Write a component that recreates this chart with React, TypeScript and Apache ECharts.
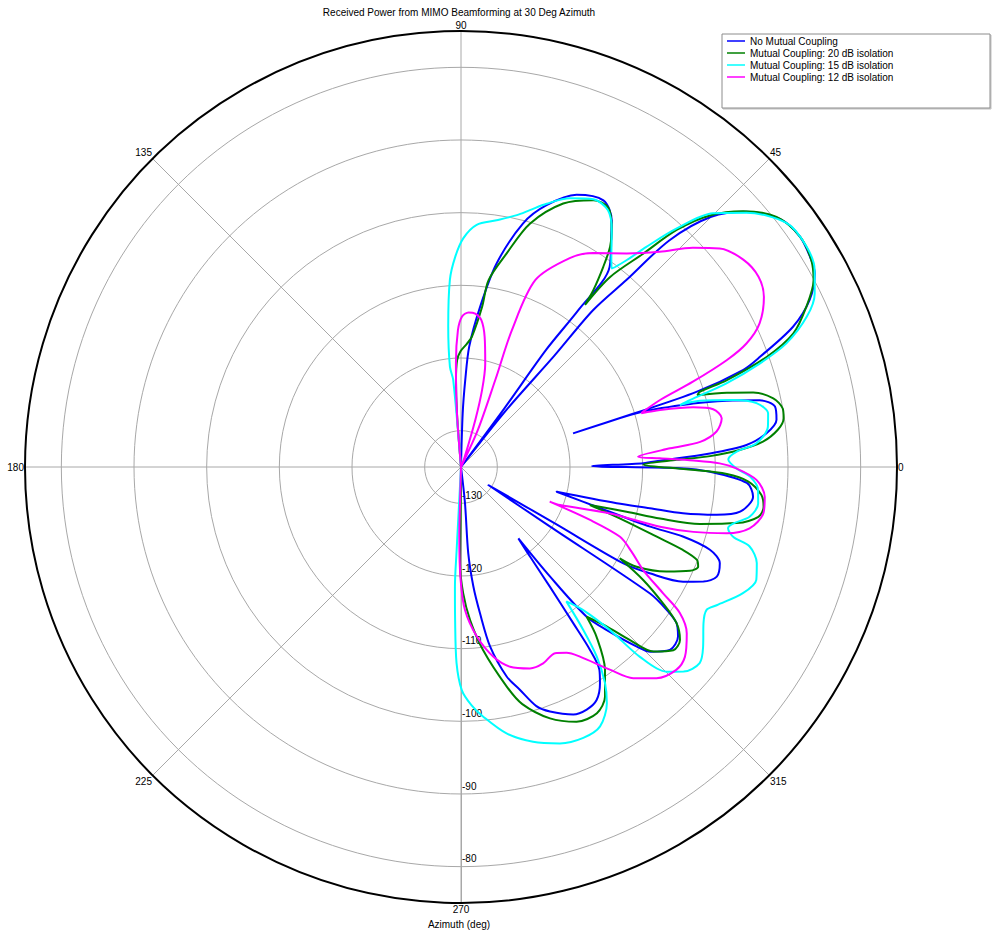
import React, { useEffect, useRef } from 'react';
import * as echarts from 'echarts';

const TITLE = 'Received Power from MIMO Beamforming at 30 Deg Azimuth';
const AXIS_NAME = 'Azimuth (deg)';
const SERIES_NAMES = [
  'No Mutual Coupling',
  'Mutual Coupling: 20 dB isolation',
  'Mutual Coupling: 15 dB isolation',
  'Mutual Coupling: 12 dB isolation',
];
const SERIES_COLORS = ['#0000ff', '#008000', '#00ffff', '#ff00ff'];
const RADIUS_TICKS = [-130, -120, -110, -100, -90, -80];
const RADIUS_MIN = -135;
const RADIUS_MAX = -75;

// [azimuth (deg), received power (dB)]
const noCoupling: [number, number][] = [
  [-89.0, -135], [-83.7, -130.0], [-85.2, -123.1], [-84.1, -118.5], [-82.6, -114.7], [-80.8, -110.0],
  [-77.7, -105.5], [-75.2, -103.3], [-72.5, -100.5],
  [-70.0, -99.2], [-65.6, -97.6], [-62.6, -97.4], [-59.8, -97.9], [-57.3, -99.6], [-55.7, -101.2],
  [-54.8, -104.2], [-54.3, -108.5], [-53.4, -114.5], [-52.4, -119.4], [-51.2, -122.4],
  [-50.9, -115.6], [-50.0, -108.1], [-48.2, -104.9], [-45.6, -100.4], [-44.3, -98.6], [-41.2, -96.8],
  [-38.0, -97.1], [-35.9, -98.4], [-34.8, -100.5], [-33.8, -103.7], [-33.8, -120.3], [-33.4, -130.5],
  [-31.0, -119.8], [-30.7, -109.0], [-29.4, -105.2], [-27.3, -100.6], [-25.3, -98.1], [-23.2, -96.7],
  [-20.4, -97.0], [-18.4, -98.9], [-17.4, -103.0], [-17.5, -107.7], [-16.5, -114.8], [-14.5, -121.4],
  [-13.1, -113.0], [-12.3, -108.4], [-11.8, -103.8], [-10.6, -99.2], [-9.1, -96.1], [-5.8, -94.6],
  [-3.2, -95.6], [-1.1, -100.7], [-0.3, -104.9], [0.4, -117.0],
  [1.2, -109.9], [1.8, -107.6], [3.1, -100.7], [4.4, -95.6], [6.3, -92.7], [8.5, -91.1], [10.9, -91.0],
  [12.6, -92.9], [14.0, -97.3], [15.3, -101.9], [16.9, -108.8], [16.7, -118.9],
  [17.2, -110.0], [17.7, -101.0], [19.0, -93.9], [20.2, -91.2], [22.9, -85.4], [25.6, -81.8],
  [28.7, -79.5], [30.6, -79.0], [34.2, -78.6], [37.9, -79.4], [41.8, -82.3], [45.0, -86.3],
  [47.4, -92.6], [48.5, -100.6], [49.9, -106.8], [50.0, -115.0], [51.5, -125.0], [53.0, -135],
  [53.5, -125.0], [54.0, -115.0], [53.2, -108.0], [53.4, -100.7], [57.2, -96.8], [58.6, -95.2],
  [61.9, -93.4], [67.0, -94.3], [71.9, -97.1], [75.7, -100.4], [80.1, -106.6], [83.2, -112.8],
  [86.1, -118.4], [87.2, -123.0], [88.2, -127.6], [89.0, -135],
];

const coupling20: [number, number][] = [
  [-90.0, -135], [-90.5, -127.7], [-90.6, -121.8], [-89.0, -117.6], [-86.6, -113.9], [-83.1, -109.6],
  [-78.2, -104.1], [-75.5, -101.3],
  [-70.5, -98.3], [-65.6, -96.5], [-61.1, -96.3], [-57.9, -97.7], [-54.6, -100.8], [-51.4, -105.1],
  [-50.0, -108.1],
  [-47.6, -105.3], [-45.7, -101.7], [-43.8, -98.3], [-40.8, -96.4], [-38.3, -96.6], [-35.9, -98.4],
  [-34.0, -101.5], [-31.8, -105.5], [-29.9, -109.8],
  [-29.6, -107.2], [-27.0, -103.3], [-24.4, -100.4], [-22.8, -99.6], [-21.5, -100.1], [-20.5, -102.4],
  [-19.6, -106.4], [-18.1, -111.5], [-16.4, -116.5],
  [-15.1, -111.4], [-14.5, -106.7], [-13.4, -101.2], [-11.5, -96.3], [-9.5, -93.5], [-7.5, -93.0],
  [-5.3, -93.5], [-2.9, -95.4], [-1.5, -98.4], [-0.6, -104.0], [0.8, -109.9],
  [1.9, -105.3], [2.5, -100.7], [3.5, -96.6], [4.8, -93.3], [6.7, -91.1], [8.6, -90.1], [10.3, -90.0],
  [12.4, -91.0], [14.3, -93.5], [15.6, -97.0], [16.9, -101.0],
  [17.5, -100.5], [18.1, -96.5], [19.8, -90.3], [21.9, -85.7], [24.9, -82.6], [27.9, -80.1],
  [30.6, -79.0], [34.2, -78.6], [38.4, -79.6], [42.2, -82.6], [45.3, -86.3], [47.7, -90.9],
  [49.5, -96.4], [51.9, -101.8], [52.6, -106.9],
  [53.2, -104.6], [54.6, -101.2], [55.9, -98.4], [57.5, -96.4], [60.3, -94.0], [63.6, -94.0],
  [68.8, -96.1], [74.2, -100.2], [77.9, -104.9], [81.6, -109.0], [82.5, -112.8], [85.2, -117.0],
  [87.2, -118.0], [90.3, -119.1], [92.1, -120.3], [93.3, -123.0], [94.3, -127.6], [93.0, -135],
];

const coupling15: [number, number][] = [
  [-93.0, -135], [-93.0, -127.7], [-93.0, -123.6], [-92.9, -118.5], [-92.2, -113.9], [-91.3, -108.0],
  [-89.8, -104.3], [-87.5, -102.2], [-84.9, -100.5], [-80.3, -97.8], [-75.3, -95.9], [-70.3, -94.6],
  [-65.7, -94.1], [-61.8, -94.5], [-58.3, -96.8], [-56.3, -99.3], [-54.4, -102.9], [-53.1, -107.0],
  [-51.9, -111.5],
  [-49.5, -109.1], [-47.6, -104.6], [-46.7, -99.1], [-44.9, -95.1], [-42.6, -93.4], [-39.4, -92.5],
  [-36.6, -93.5], [-32.8, -95.3], [-30.2, -95.9],
  [-28.4, -95.0], [-24.1, -92.5], [-20.9, -91.5], [-18.0, -92.2], [-15.4, -93.8], [-14.4, -96.3],
  [-12.9, -97.3],
  [-11.7, -96.7], [-9.8, -94.7], [-7.0, -93.8], [-4.4, -94.0], [-1.9, -95.2], [-0.3, -97.1],
  [1.6, -98.2],
  [3.2, -97.0], [4.6, -94.2], [7.5, -92.4], [9.9, -92.1], [12.2, -93.4], [13.8, -96.4], [15.5, -100.9],
  [15.8, -103.7],
  [16.3, -102.2], [17.5, -96.7], [19.1, -91.5], [20.8, -87.1], [23.5, -83.1], [26.1, -80.8],
  [29.1, -79.3], [32.5, -78.6], [36.8, -79.0], [41.7, -82.4], [45.2, -85.8], [47.9, -90.8],
  [49.9, -95.4], [51.3, -98.5], [52.8, -100.7],
  [54.0, -99.8], [57.5, -96.4], [60.2, -94.3], [63.7, -93.9], [67.9, -95.1], [72.0, -96.9],
  [75.0, -98.4], [77.5, -99.5], [81.8, -100.7], [86.3, -101.6], [89.4, -103.5], [91.6, -106.1],
  [93.4, -109.2], [95.2, -115.6], [96.3, -121.1], [95.1, -123.0], [95.0, -135],
];

const coupling12: [number, number][] = [
  [-92.0, -135], [-91.6, -130.0], [-91.4, -125.4], [-90.2, -119.5], [-88.4, -115.3], [-84.7, -111.6],
  [-80.3, -108.5], [-76.2, -106.7], [-71.1, -105.7], [-67.3, -105.7], [-63.2, -106.3], [-60.4, -105.6],
  [-57.9, -104.2], [-53.7, -100.4],
  [-50.8, -97.5], [-47.2, -95.4], [-43.3, -94.3], [-40.3, -94.6], [-36.4, -96.4], [-33.7, -98.8],
  [-32.0, -102.2], [-29.5, -106.2], [-26.4, -108.8], [-23.7, -111.1], [-22.3, -115.8], [-21.3, -121.9],
  [-21.0, -120.4], [-17.3, -113.5], [-16.7, -106.4], [-15.6, -101.8], [-14.0, -97.3], [-12.0, -94.4],
  [-8.7, -92.9], [-5.6, -93.0], [-2.5, -94.3], [-0.3, -97.1], [0.8, -99.4], [1.6, -103.0],
  [2.5, -107.6], [3.3, -110.6],
  [5.1, -106.1], [6.0, -101.9], [7.9, -99.5], [10.6, -98.5], [12.9, -99.4], [14.4, -102.0],
  [16.0, -106.5], [16.6, -109.1],
  [16.9, -108.8], [18.6, -106.1], [20.2, -101.0], [21.9, -95.6], [23.4, -92.2], [25.7, -89.4],
  [29.3, -87.2], [32.6, -86.4], [36.3, -86.8], [40.2, -88.4], [43.4, -91.1], [47.3, -94.7],
  [52.2, -97.8], [58.3, -100.4], [62.5, -102.6], [68.3, -107.3], [69.6, -114.9], [68.5, -122.1],
  [65.5, -129.4], [68.0, -135],
  [70.0, -133.5], [73.1, -128.2], [74.7, -124.0], [76.8, -120.4], [79.7, -116.8], [82.1, -114.6],
  [84.7, -113.8], [87.2, -113.7], [89.6, -114.3], [91.3, -116.2], [92.8, -120.7], [94.3, -127.6],
  [93.5, -135],
];

const SERIES_DATA = [noCoupling, coupling20, coupling15, coupling12];

// angle axis runs 270..630 so that it starts at the bottom (where the dB labels sit)
function toAxisAngle(az: number): number {
  let v = ((az % 360) + 360) % 360;
  if (v < 270) v += 360;
  return v;
}

export default function App() {
  const ref = useRef<HTMLDivElement>(null);
  useEffect(() => {
    if (!ref.current) return;
    const chart = echarts.init(ref.current, null, { renderer: 'svg' });
    const font = 'Liberation Sans, Arial, sans-serif';
    const option: any = {
      animation: false,
      backgroundColor: '#ffffff',
      textStyle: { fontFamily: font },
      polar: { center: [461, 467], radius: 436 },
      angleAxis: {
        type: 'value',
        min: 270,
        max: 630,
        interval: 45,
        startAngle: 270,
        clockwise: false,
        axisLine: { show: true, lineStyle: { color: '#000000', width: 2 } },
        axisTick: { show: false },
        axisLabel: {
          show: true,
          margin: 1,
          color: '#000000',
          fontSize: 10,
          fontFamily: font,
          formatter: (v: number) => String(Math.round(v) % 360),
        },
        splitLine: { show: true, lineStyle: { color: '#a8a8a8', width: 1 } },
      },
      radiusAxis: {
        type: 'value',
        min: RADIUS_MIN,
        max: RADIUS_MAX,
        axisLine: { show: true, lineStyle: { color: '#a8a8a8', width: 1 } },
        axisTick: { show: false, customValues: RADIUS_TICKS },
        axisLabel: {
          show: true,
          customValues: RADIUS_TICKS,
          color: '#000000',
          fontSize: 10,
          fontFamily: font,
          margin: 1,
          align: 'left',
          verticalAlign: 'bottom',
          padding: [0, 0, 3, 0],
          formatter: (v: number) => (RADIUS_TICKS.indexOf(v) >= 0 ? String(v) : ''),
        },
        splitLine: { show: true, lineStyle: { color: '#a8a8a8', width: 1 } },
      },
      legend: {
        orient: 'vertical',
        left: 727,
        top: 35,
        itemGap: 0,
        itemWidth: 18,
        itemHeight: 1.5,
        icon: 'rect',
        padding: 0,
        textStyle: { fontSize: 10, lineHeight: 12, color: '#000000', fontFamily: font },
        data: SERIES_NAMES,
      },
      graphic: [
        {
          type: 'rect',
          shape: { x: 722, y: 34, width: 268, height: 74 },
          style: { fill: '#ffffff', stroke: '#8c8c8c', lineWidth: 1, shadowColor: 'rgba(0,0,0,0.25)', shadowOffsetX: 1, shadowOffsetY: 1 },
          z: -1,
        },
        {
          type: 'text',
          x: 459,
          y: 12,
          style: { text: TITLE, fill: '#000000', font: `10px ${font}`, align: 'center', verticalAlign: 'middle' },
        },
        {
          type: 'text',
          x: 459,
          y: 924,
          style: { text: AXIS_NAME, fill: '#000000', font: `10px ${font}`, align: 'center', verticalAlign: 'middle' },
        },
      ],
      series: SERIES_DATA.map((d, i) => ({
        name: SERIES_NAMES[i],
        type: 'line',
        coordinateSystem: 'polar',
        showSymbol: false,
        symbol: 'none',
        smooth: 0.3,
        color: SERIES_COLORS[i],
        lineStyle: { color: SERIES_COLORS[i], width: 2 },
        data: d.map(([az, db]) => [db, toAxisAngle(az)]),
      })),
    };
    chart.setOption(option);
    return () => chart.dispose();
  }, []);
  return (
    <div
      ref={ref}
      style={{ position: 'absolute', left: 0, top: 0, width: 1000, height: 941, background: '#fff' }}
    />
  );
}
